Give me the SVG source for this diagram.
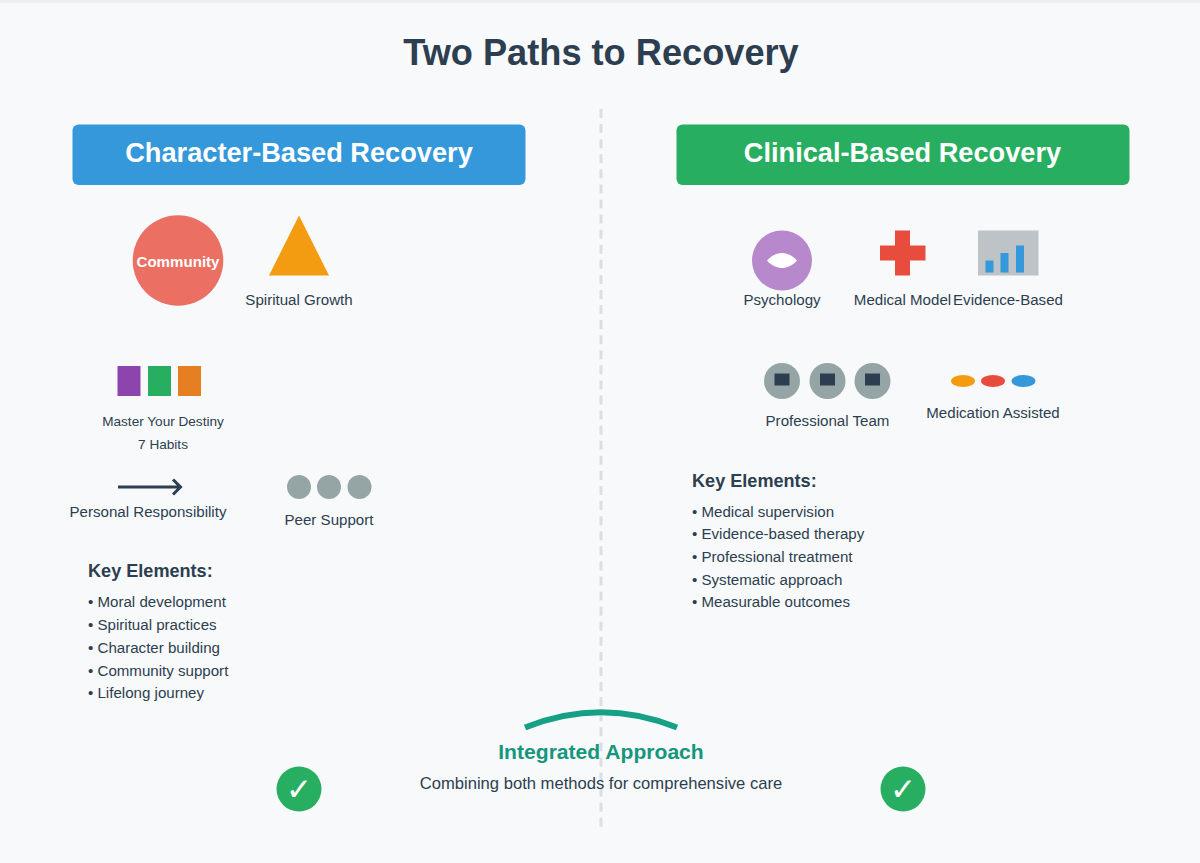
<svg xmlns="http://www.w3.org/2000/svg" width="1200" height="863" viewBox="0 0 1200 863">
<style>
text{font-family:"Liberation Sans",Arial,sans-serif;fill:#2c3e50;text-anchor:middle}
.l{font-size:15.1px}
.s{font-size:13.6px}
.li{font-size:15.1px;text-anchor:start}
.k{font-size:18.1px;font-weight:bold;text-anchor:start}
.h{font-size:27.2px;font-weight:bold;fill:#fff}
.c{font-size:31px;fill:#fff;font-family:"DejaVu Sans",sans-serif}
</style>
<rect width="1200" height="863" fill="#f8f9fa"/>
<rect width="1200" height="3" fill="#efefef"/>
<g id="connectors"><line x1="601" y1="109" x2="601" y2="828" stroke="#dcdfe1" stroke-width="3" stroke-dasharray="9 6.08"/></g>
<g id="title"><text x="601" y="65" font-size="36.2" font-weight="bold">Two Paths to Recovery</text></g>
<g id="char-header"><rect x="72.500" y="124.500" width="453" height="60.500" rx="6" fill="#3498db"/><text class="h" x="299" y="162">Character-Based Recovery</text></g>
<g id="clin-header"><rect x="676.500" y="124.500" width="453" height="60.500" rx="6" fill="#27ae60"/><text class="h" x="902.500" y="162">Clinical-Based Recovery</text></g>
<g id="community"><circle cx="178" cy="260.500" r="45.300" fill="#e74c3c" opacity=".8"/><text x="178" y="267" font-size="15.1" font-weight="bold" style="fill:#fff">Community</text></g>
<g id="spiritual"><polygon points="299,215.500 329,275.500 269,275.500" fill="#f39c12"/><text class="l" x="299" y="305">Spiritual Growth</text></g>
<g id="destiny"><rect x="117.500" y="366" width="23" height="30" fill="#8e44ad"/><rect x="148" y="366" width="23" height="30" fill="#27ae60"/><rect x="178" y="366" width="23" height="30" fill="#e67e22"/><text class="s" x="163" y="426">Master Your Destiny</text><text class="s" x="163" y="449">7 Habits</text></g>
<g id="responsibility"><path d="M118 487H180M173 479.500L180.500 487L173 494.500" fill="none" stroke="#2c3e50" stroke-width="3"/><text class="l" x="148" y="517">Personal Responsibility</text></g>
<g id="peer"><circle cx="299" cy="487" r="12" fill="#95a5a6"/><circle cx="329" cy="487" r="12" fill="#95a5a6"/><circle cx="359.500" cy="487" r="12" fill="#95a5a6"/><text class="l" x="329" y="525">Peer Support</text></g>
<g id="char-key"><text class="k" x="88" y="577">Key Elements:</text><text class="li" x="88" y="607">• Moral development</text><text class="li" x="88" y="630">• Spiritual practices</text><text class="li" x="88" y="653">• Character building</text><text class="li" x="88" y="676">• Community support</text><text class="li" x="88" y="698">• Lifelong journey</text></g>
<g id="psychology"><circle cx="782" cy="260.500" r="30" fill="#9b59b6" opacity=".7"/><path d="M767 260.500C772 255 777 253 782 253C787 253 792 255 797 260.500C792 266 787 268 782 268C777 268 772 266 767 260.500Z" fill="#fff"/><text class="l" x="782" y="305">Psychology</text></g>
<g id="medical"><path d="M895 230.500H910V245.500H925.500V260.500H910V275.500H895V260.500H880V245.500H895Z" fill="#e74c3c"/><text class="l" x="902.500" y="305">Medical Model</text></g>
<g id="evidence"><rect x="978" y="230.500" width="60.500" height="45" fill="#bdc3c7"/><rect x="985.500" y="260.500" width="8" height="12" fill="#3498db"/><rect x="1000.500" y="253" width="8" height="19.500" fill="#3498db"/><rect x="1016" y="245.500" width="8" height="27" fill="#3498db"/><text class="l" x="1008" y="305">Evidence-Based</text></g>
<g id="team"><circle cx="782" cy="381" r="18" fill="#95a5a6"/><circle cx="827.500" cy="381" r="18" fill="#95a5a6"/><circle cx="872.500" cy="381" r="18" fill="#95a5a6"/><rect x="774.500" y="373.500" width="15" height="12" fill="#2c3e50"/><rect x="820" y="373.500" width="15" height="12" fill="#2c3e50"/><rect x="865" y="373.500" width="15" height="12" fill="#2c3e50"/><text class="l" x="827.500" y="426">Professional Team</text></g>
<g id="medication"><ellipse cx="963" cy="381" rx="12" ry="6" fill="#f39c12"/><ellipse cx="993" cy="381" rx="12" ry="6" fill="#e74c3c"/><ellipse cx="1023.500" cy="381" rx="12" ry="6" fill="#3498db"/><text class="l" x="993" y="418">Medication Assisted</text></g>
<g id="clin-key"><text class="k" x="692" y="487">Key Elements:</text><text class="li" x="692" y="517">• Medical supervision</text><text class="li" x="692" y="539">• Evidence-based therapy</text><text class="li" x="692" y="562">• Professional treatment</text><text class="li" x="692" y="585">• Systematic approach</text><text class="li" x="692" y="607">• Measurable outcomes</text></g>
<g id="integrated"><path d="M525 727.500Q601 697 677 727.500" fill="none" stroke="#16a085" stroke-width="6"/><text x="601" y="758.500" font-size="21.100" font-weight="bold" style="fill:#16967c">Integrated Approach</text><text x="601" y="789" font-size="16.600">Combining both methods for comprehensive care</text></g>
<g id="check-left"><circle cx="299" cy="789" r="22.500" fill="#27ae60"/><text class="c" x="299" y="800">✓</text></g>
<g id="check-right"><circle cx="903" cy="789" r="22.500" fill="#27ae60"/><text class="c" x="903" y="800">✓</text></g>
</svg>
